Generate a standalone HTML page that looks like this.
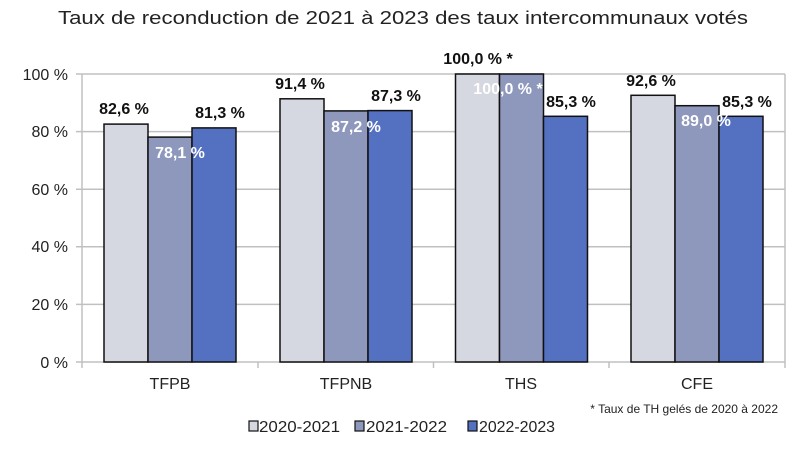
<!DOCTYPE html>
<html><head><meta charset="utf-8"><style>body{margin:0;background:#fff}</style></head><body>
<svg width="802" height="461" xmlns="http://www.w3.org/2000/svg" font-family="Liberation Sans, Arial, sans-serif">
<text x="58" y="24" font-size="18" textLength="690" lengthAdjust="spacingAndGlyphs" fill="#222">Taux de reconduction de 2021 à 2023 des taux intercommunaux votés</text>
<g stroke="#c0c0c0" stroke-width="1.5">
<line x1="76" y1="74" x2="785" y2="74"/><line x1="76" y1="131.6" x2="785" y2="131.6"/>
<line x1="76" y1="189.2" x2="785" y2="189.2"/><line x1="76" y1="246.8" x2="785" y2="246.8"/>
<line x1="76" y1="304.4" x2="785" y2="304.4"/><line x1="76" y1="362" x2="785" y2="362"/>
<line x1="82" y1="74" x2="82" y2="368"/><line x1="785" y1="74" x2="785" y2="368"/>
<line x1="258" y1="362" x2="258" y2="368"/><line x1="433.5" y1="362" x2="433.5" y2="368"/><line x1="609" y1="362" x2="609" y2="368"/>
</g>
<g font-size="16" fill="#222" text-anchor="end">
<text x="68" y="80">100 %</text><text x="68" y="137">80 %</text><text x="68" y="195">60 %</text>
<text x="68" y="252">40 %</text><text x="68" y="310">20 %</text><text x="68" y="368">0 %</text>
</g>
<g stroke="#111" stroke-width="1.5">
<rect x="104" y="124.1" width="44" height="237.9" fill="#d5d8e0"/>
<rect x="148" y="137.1" width="44" height="224.9" fill="#8e97bc"/>
<rect x="192" y="127.9" width="44" height="234.1" fill="#5470c0"/>
<rect x="280" y="98.8" width="44" height="263.2" fill="#d5d8e0"/>
<rect x="324" y="110.9" width="44" height="251.1" fill="#8e97bc"/>
<rect x="368" y="110.6" width="44" height="251.4" fill="#5470c0"/>
<rect x="455.5" y="74" width="44" height="288" fill="#d5d8e0"/>
<rect x="499.5" y="74" width="44" height="288" fill="#8e97bc"/>
<rect x="543.5" y="116.3" width="44" height="245.7" fill="#5470c0"/>
<rect x="631" y="95.3" width="44" height="266.7" fill="#d5d8e0"/>
<rect x="675" y="105.7" width="44" height="256.3" fill="#8e97bc"/>
<rect x="719" y="116.3" width="44" height="245.7" fill="#5470c0"/>
</g>
<g font-size="16" font-weight="bold" fill="#111" text-anchor="middle">
<text x="124" y="114">82,6 %</text><text x="220" y="118">81,3 %</text>
<text x="300" y="89">91,4 %</text><text x="396" y="101">87,3 %</text>
<text x="478" y="64">100,0 % *</text><text x="571" y="107">85,3 %</text>
<text x="651" y="86">92,6 %</text><text x="747" y="107">85,3 %</text>
</g>
<g font-size="16" font-weight="bold" fill="#fff" text-anchor="middle">
<text x="180" y="158">78,1 %</text><text x="356" y="132">87,2 %</text>
<text x="508" y="94">100,0 % *</text><text x="706" y="126">89,0 %</text>
</g>
<g font-size="16" fill="#222" text-anchor="middle">
<text x="170" y="389">TFPB</text><text x="346" y="389">TFPNB</text>
<text x="521" y="389">THS</text><text x="697" y="389">CFE</text>
</g>
<text x="778" y="413" font-size="12" fill="#222" text-anchor="end">* Taux de TH gelés de 2020 à 2022</text>
<g stroke="#111" stroke-width="1.2">
<rect x="249" y="421" width="9" height="10" fill="#d5d8e0"/>
<rect x="355" y="421" width="9" height="10" fill="#8e97bc"/>
<rect x="468" y="421" width="9" height="10" fill="#5470c0"/>
</g>
<g font-size="16" fill="#222">
<text x="259" y="432" textLength="81" lengthAdjust="spacingAndGlyphs">2020-2021</text>
<text x="366" y="432" textLength="81" lengthAdjust="spacingAndGlyphs">2021-2022</text>
<text x="479" y="432" textLength="76" lengthAdjust="spacingAndGlyphs">2022-2023</text>
</g>
</svg>
</body></html>
